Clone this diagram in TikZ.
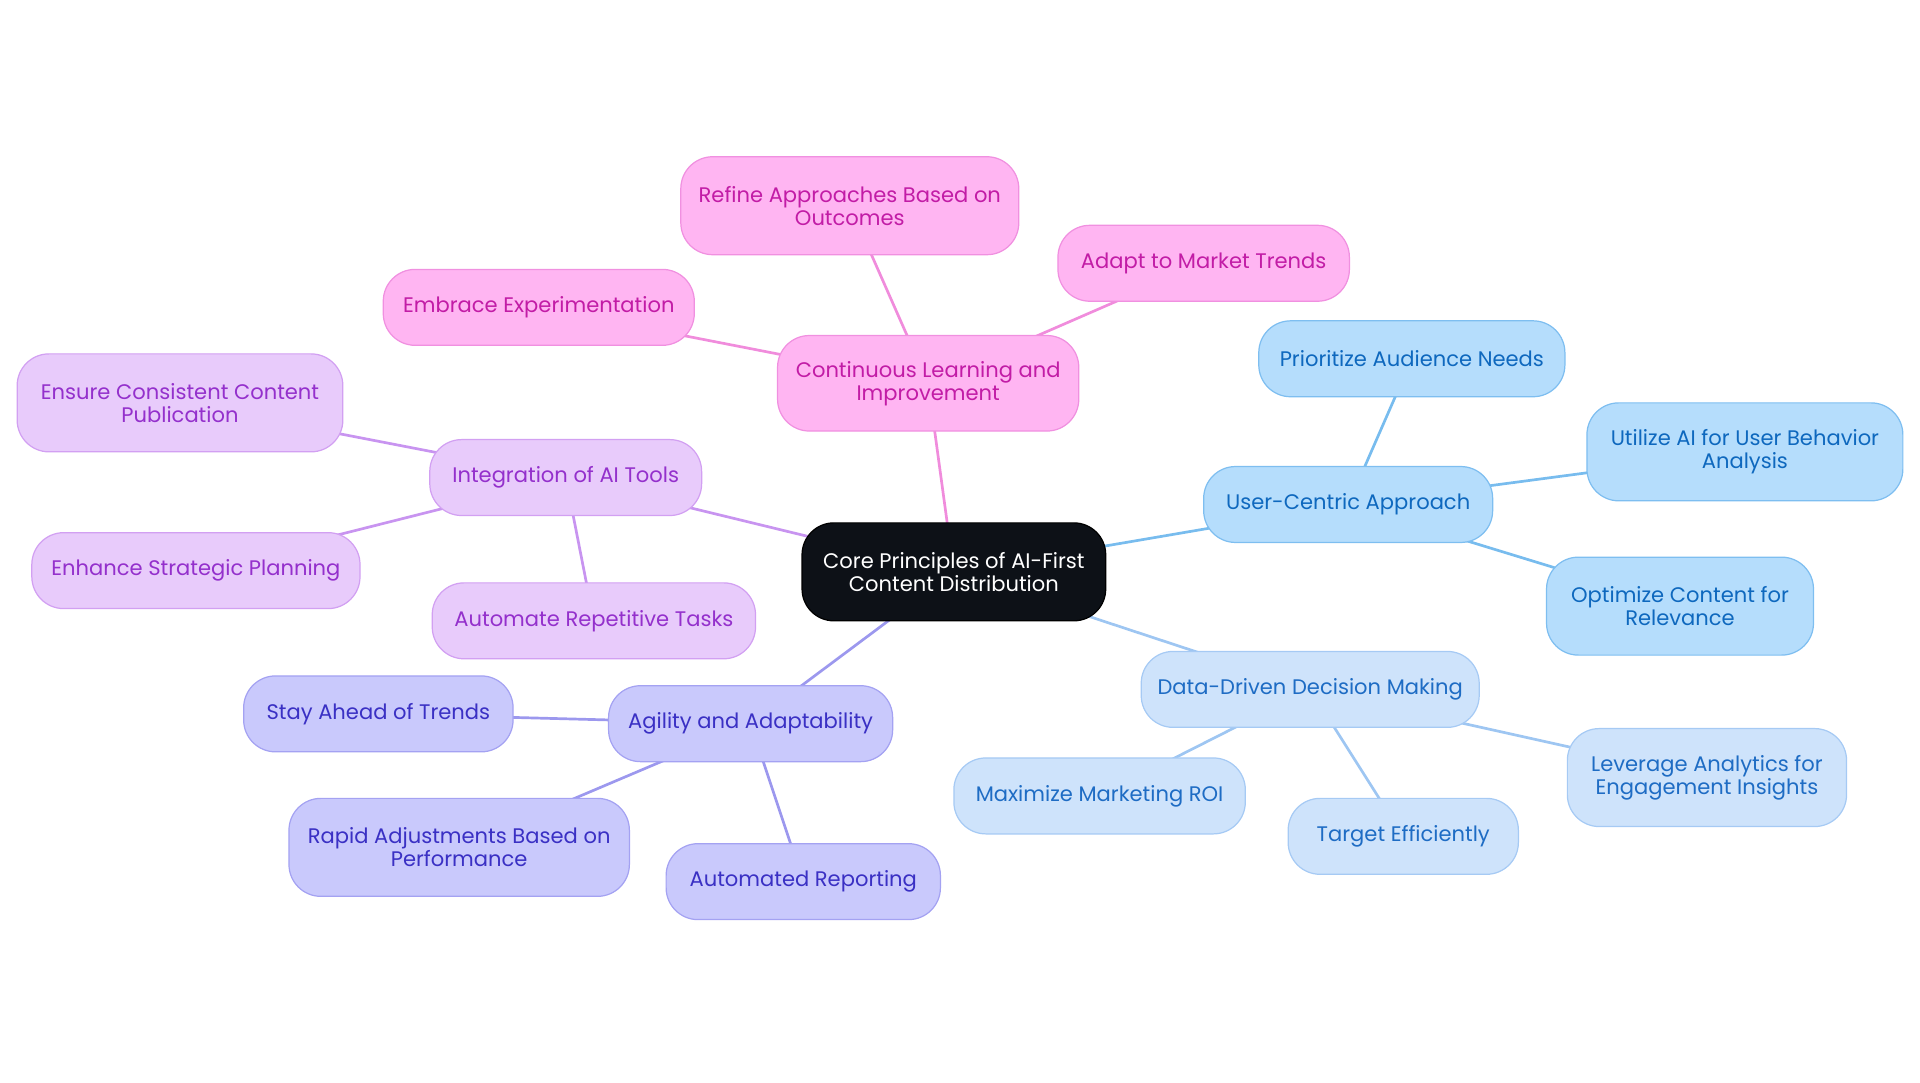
\documentclass[tikz,border=0pt]{standalone}
\usepackage{fontspec}
\setmainfont{Poppins}
\usetikzlibrary{backgrounds}
\definecolor{pkF}{HTML}{FFB5F2}\definecolor{pkT}{HTML}{C21CA6}\definecolor{pkD}{HTML}{F090E0}\definecolor{pkL}{HTML}{F08CDC}
\definecolor{lvF}{HTML}{E8CBFB}\definecolor{lvT}{HTML}{9430CC}\definecolor{lvD}{HTML}{D2A0F2}\definecolor{lvL}{HTML}{C894F0}
\definecolor{igF}{HTML}{C9C9FC}\definecolor{igT}{HTML}{3A30C4}\definecolor{igD}{HTML}{A4A2F2}\definecolor{igL}{HTML}{9C98EE}
\definecolor{lbF}{HTML}{CEE3FB}\definecolor{lbT}{HTML}{1E6CC4}\definecolor{lbD}{HTML}{A6CAF4}\definecolor{lbL}{HTML}{9EC6F2}
\definecolor{skF}{HTML}{B5DDFC}\definecolor{skT}{HTML}{0E68BE}\definecolor{skD}{HTML}{7EBEF0}\definecolor{skL}{HTML}{78BCEE}
\definecolor{coreF}{HTML}{0D1117}
\begin{document}
\begin{tikzpicture}[x=0.5pt,y=-0.5pt,
 box/.style={rounded corners=13pt,align=center,font=\fontsize{8.6}{9.4}\selectfont,inner sep=0pt,line width=0.5pt},
 pk/.style={box,fill=pkF,draw=pkD,text=pkT},
 lv/.style={box,fill=lvF,draw=lvD,text=lvT},
 ig/.style={box,fill=igF,draw=igD,text=igT},
 lb/.style={box,fill=lbF,draw=lbD,text=lbT},
 sk/.style={box,fill=skF,draw=skD,text=skT},
 ln/.style={line width=1.1pt}]
\useasboundingbox (0,0) rectangle (1568,884);
\newcommand\nd[6]{\node[#1,minimum width=#4*0.5pt,minimum height=#5*0.5pt] (#2) at (#3) {#6};}
\nd{box,fill=coreF,draw=black,text=white}{core}{779,467}{248}{80}{Core Principles of AI-First\\Content Distribution}
\nd{pk}{cl}{758,313}{246}{78}{Continuous Learning and\\Improvement}
\nd{pk}{ref}{694,168}{276}{80}{Refine Approaches Based on\\Outcomes}
\nd{pk}{ada}{983,215}{238}{62}{Adapt to Market Trends}
\nd{pk}{emb}{440,251}{254}{62}{Embrace Experimentation}
\nd{lv}{int}{462,390}{222}{62}{Integration of AI Tools}
\nd{lv}{ens}{147,329}{266}{80}{Ensure Consistent Content\\Publication}
\nd{lv}{enh}{160,466}{268}{62}{Enhance Strategic Planning}
\nd{lv}{aut}{485,507}{264}{62}{Automate Repetitive Tasks}
\nd{ig}{agi}{613,591}{232}{62}{Agility and Adaptability}
\nd{ig}{sta}{309,583}{220}{62}{Stay Ahead of Trends}
\nd{ig}{rap}{375,692}{278}{80}{Rapid Adjustments Based on\\Performance}
\nd{ig}{arp}{656,720}{224}{62}{Automated Reporting}
\nd{lb}{dat}{1070,563}{276}{62}{Data-Driven Decision Making}
\nd{lb}{max}{898,650}{238}{62}{Maximize Marketing ROI}
\nd{lb}{tar}{1146,683}{188}{62}{Target Efficiently}
\nd{lb}{lev}{1394,635}{228}{80}{Leverage Analytics for\\Engagement Insights}
\nd{sk}{usr}{1101,412}{236}{62}{User-Centric Approach}
\nd{sk}{pri}{1153,293}{250}{62}{Prioritize Audience Needs}
\nd{sk}{uti}{1425,369}{258}{80}{Utilize AI for User Behavior\\Analysis}
\nd{sk}{opt}{1372,495}{218}{80}{Optimize Content for\\Relevance}
\begin{scope}[on background layer]
\draw[ln,pkL] (core.center) -- (cl.center); \draw[ln,pkL] (cl.center) -- (ref.center); \draw[ln,pkL] (cl.center) -- (ada.center); \draw[ln,pkL] (cl.center) -- (emb.center);
\draw[ln,lvL] (core.center) -- (int.center); \draw[ln,lvL] (int.center) -- (ens.center); \draw[ln,lvL] (int.center) -- (enh.center); \draw[ln,lvL] (int.center) -- (aut.center);
\draw[ln,igL] (core.center) -- (agi.center); \draw[ln,igL] (agi.center) -- (sta.center); \draw[ln,igL] (agi.center) -- (rap.center); \draw[ln,igL] (agi.center) -- (arp.center);
\draw[ln,lbL] (core.center) -- (dat.center); \draw[ln,lbL] (dat.center) -- (max.center); \draw[ln,lbL] (dat.center) -- (tar.center); \draw[ln,lbL] (dat.center) -- (lev.center);
\draw[ln,skL] (core.center) -- (usr.center); \draw[ln,skL] (usr.center) -- (pri.center); \draw[ln,skL] (usr.center) -- (uti.center); \draw[ln,skL] (usr.center) -- (opt.center);
\end{scope}
\end{tikzpicture}
\end{document}
